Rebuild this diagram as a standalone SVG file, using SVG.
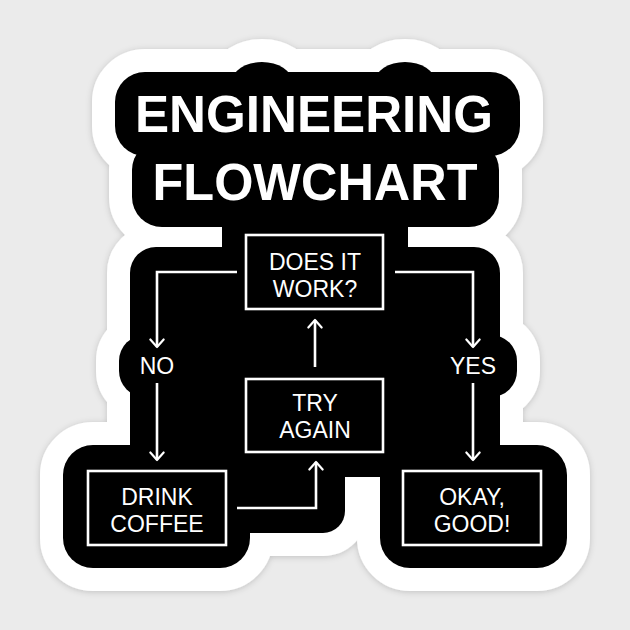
<svg xmlns="http://www.w3.org/2000/svg" width="630" height="630" viewBox="0 0 630 630">
<defs>
<style>
.lbl{font-family:"Liberation Sans","Open Sans",sans-serif;font-size:23px;fill:#fff;text-anchor:middle}
.ttl{font-family:"Liberation Sans","Open Sans",sans-serif;font-size:52px;font-weight:bold;fill:#fff;text-anchor:middle}
.box{fill:none;stroke:#fff;stroke-width:2.6}
.con{fill:none;stroke:#fff;stroke-width:2.6;stroke-linejoin:miter}
</style>
<marker id="ah" markerUnits="userSpaceOnUse" markerWidth="20" markerHeight="20" refX="0" refY="0" orient="auto" viewBox="-12 -12 24 24" overflow="visible">
<path d="M-9,-8 L0,0 L-9,8" fill="none" stroke="#fff" stroke-width="2.6" stroke-linecap="round" stroke-linejoin="round"/>
</marker>
<g id="blob">
<rect x="115" y="72" width="405" height="84" rx="30"/>
<rect x="132" y="140" width="367" height="87" rx="30"/>
<ellipse cx="262" cy="82" rx="30" ry="20"/>
<ellipse cx="405" cy="82" rx="30" ry="20"/>
<rect x="222" y="200" width="186" height="70"/>
<rect x="130" y="247" width="370" height="230" rx="26"/>
<rect x="119" y="335" width="80" height="62" rx="26"/>
<rect x="433" y="335" width="84" height="62" rx="26"/>
<rect x="63" y="445" width="187" height="123" rx="30"/>
<rect x="200" y="420" width="145" height="113" rx="22"/>
<rect x="380" y="445" width="187" height="123" rx="30"/>
<rect x="380" y="420" width="120" height="60"/>
</g>
<filter id="sh" x="-10%" y="-10%" width="120%" height="120%">
<feDropShadow dx="0" dy="1" stdDeviation="3" flood-color="#000" flood-opacity="0.18"/>
</filter>
</defs>
<rect width="630" height="630" fill="#ebebeb"/>
<g id="sticker">
<g filter="url(#sh)"><use href="#blob" fill="#fff" stroke="#fff" stroke-width="46" stroke-linejoin="round"/></g>
<use href="#blob" fill="#000"/>
</g>
<g id="title">
<text class="ttl" x="314" y="132" textLength="358" lengthAdjust="spacingAndGlyphs">ENGINEERING</text>
<text class="ttl" x="315" y="200" textLength="325" lengthAdjust="spacingAndGlyphs">FLOWCHART</text>
</g>
<g id="connectors">
<path class="con" d="M237,272 H157 V347" marker-end="url(#ah)"/>
<path class="con" d="M157,383 V460" marker-end="url(#ah)"/>
<path class="con" d="M395,272 H473 V347" marker-end="url(#ah)"/>
<path class="con" d="M473,383 V460" marker-end="url(#ah)"/>
<path class="con" d="M315,367 V320" marker-end="url(#ah)"/>
<path class="con" d="M237,508 H316 V462" marker-end="url(#ah)"/>
</g>
<g id="node-works">
<rect class="box" x="246" y="235" width="137" height="74"/>
<text class="lbl" x="315" y="270">DOES IT</text>
<text class="lbl" x="315" y="297">WORK?</text>
</g>
<g id="label-no"><text class="lbl" x="157" y="374">NO</text></g>
<g id="label-yes"><text class="lbl" x="473" y="374">YES</text></g>
<g id="node-try">
<rect class="box" x="246" y="379" width="137" height="73"/>
<text class="lbl" x="315" y="411">TRY</text>
<text class="lbl" x="315" y="438">AGAIN</text>
</g>
<g id="node-coffee">
<rect class="box" x="88" y="471" width="138" height="74"/>
<text class="lbl" x="157" y="505">DRINK</text>
<text class="lbl" x="157" y="532">COFFEE</text>
</g>
<g id="node-good">
<rect class="box" x="403" y="471" width="138" height="74"/>
<text class="lbl" x="472" y="505">OKAY,</text>
<text class="lbl" x="472" y="532">GOOD!</text>
</g>
</svg>
